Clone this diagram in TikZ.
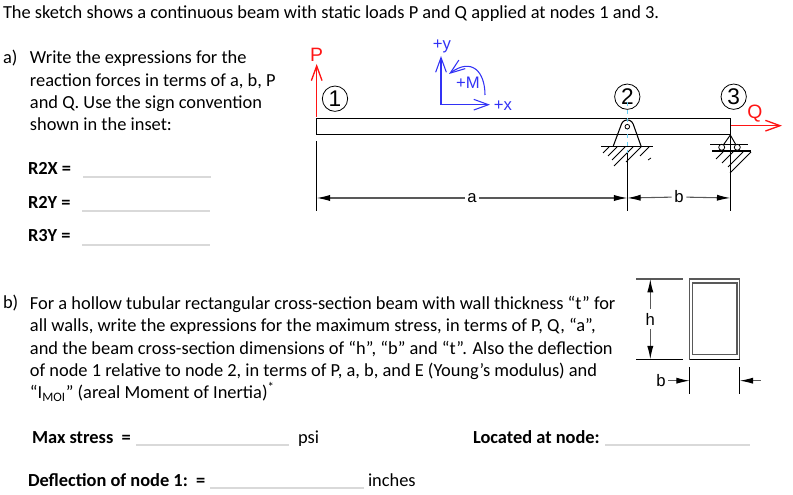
\documentclass[tikz,border=0pt]{standalone}
\usepackage{fontspec}
\setmainfont{Carlito}
\newfontfamily\labelfont{Liberation Sans}
\usetikzlibrary{arrows.meta, positioning}
\definecolor{loadred}{RGB}{255,20,20}
\definecolor{insetblue}{RGB}{50,50,245}

\begin{document}
\begin{tikzpicture}[
            x=0.75pt, y=-0.75pt,
            every node/.style={inner sep=0pt, outer sep=0pt},
            txt/.style={anchor=base west, font=\fontsize{13.8}{16.8}\selectfont},
            para/.style={anchor=north west, align=left, font=\fontsize{13.8}{16.8}\selectfont},
            boldtxt/.style={txt, font=\fontsize{13.8}{16.8}\selectfont\bfseries},
            blank/.style={draw=gray!30, line width=0.8pt},
            fig/.style={font=\labelfont\fontsize{12.5}{14}\selectfont},
            numcircle/.style={draw, circle, minimum size=19pt, line width=0.6pt, font=\labelfont\fontsize{17}{19}\selectfont},
            load/.style={draw=loadred, line width=1pt, -{Straight Barb[length=11pt,width=8pt]}},
            inset/.style={draw=insetblue, line width=0.8pt, -{Straight Barb[length=11pt,width=8pt]}},
            dimline/.style={draw=gray!70!black, line width=0.8pt, -{Latex[length=10pt,width=4.6pt,black]}},
            ext/.style={draw=black, line width=0.7pt},
        ]
        \useasboundingbox (0,0) rectangle (793,495);

        % question text
        \node[txt] (intro) at (3,18.5) {The sketch shows a continuous beam with static loads P and Q applied at nodes 1 and 3.};
        \node[txt] (parta) at (3,64) {a)};
        \node[para] (textta) at (30,51) {Write the expressions for the\\reaction forces in terms of a, b, P\\and Q. Use the sign convention\\shown in the inset:};
        \node[boldtxt] (r2x) at (28,175) {R2X =};
        \node[boldtxt] (r2y) at (28,209) {R2Y =};
        \node[boldtxt] (r3y) at (28,242) {R3Y =};
        \draw[blank] (83,177) -- (211,177);
        \draw[blank] (82,211) -- (210,211);
        \draw[blank] (82,245) -- (210,245);
        \node[txt] (partb) at (3,309) {b)};
        \node[para] (texttb) at (30,296) {For a hollow tubular rectangular cross-section beam with wall thickness “t” for\\all walls, write the expressions for the maximum stress, in terms of P, Q, “a”,\\and the beam cross-section dimensions of “h”, “b” and “t”. Also the deflection\\of node 1 relative to node 2, in terms of P, a, b, and E (Young’s modulus) and\\“I\textsubscript{MOI}” (areal Moment of Inertia)\textsuperscript{*}};
        \node[boldtxt] (maxs) at (32,443) {Max stress\ \ =};
        \node[txt] (psi) at (298,443) {psi};
        \node[boldtxt] (located) at (473,443) {Located at node:};
        \node[boldtxt] (defl) at (28,486) {Deflection of node 1:\ \ =};
        \node[txt] (inches) at (368,486) {inches};
        \draw[blank] (136,445) -- (289,445);
        \draw[blank] (605,445) -- (750,445);
        \draw[blank] (210,488) -- (364,488);

        % beam
        \node[draw, line width=0.8pt, minimum width=310.5pt, minimum height=12pt, anchor=north west] (beam) at (316.7,118.3) {};
        \node[numcircle] (n1) at (335,98.7) {1};
        \node[numcircle] (n2) at (627.3,96.7) {2};
        \node[numcircle] (n3) at (733.7,96.7) {3};

        % loads
        \coordinate (pbase) at (316.7,117);
        \coordinate (qbase) at (731,125.7);
        \node[text=loadred, font=\labelfont\fontsize{14.5}{16}\selectfont] (p) at (316.5,55) {P};
        \node[text=loadred, font=\labelfont\fontsize{14.5}{16}\selectfont] (q) at (755,114) {Q};
        \coordinate (ptip) at (316.7,64);
        \coordinate (qtip) at (782,125.7);
        \draw[load] (pbase) -- (ptip);

        % sign inset
        \coordinate (origin) at (441,104.7);
        \coordinate (ytip) at (441,56);
        \coordinate (xtip) at (490,104.7);
        \node[fig, text=insetblue] (ylab) at (442,46) {+y};
        \node[fig, text=insetblue] (xlab) at (503,106) {+x};
        \node[fig, text=insetblue] (mlab) at (468,83) {+M};
        \draw[inset] (origin) -- (ytip);
        \draw[inset] (origin) -- (xtip);
        \coordinate (mstart) at (485,95);
        \coordinate (mtip) at (449,74);
        \draw[inset] (mstart) .. controls (485,72) and (472,57) .. (mtip);

        % support 2
        \coordinate (pin2) at (627.3,126.7);
        \draw[line width=0.8pt] (613.3,146) -- (621.5,124) arc[start angle=200, end angle=340, radius=6.2] -- (641,146);
        \draw[line width=0.8pt] (601,146.3) -- (653.3,146.3);
        \foreach \hx/\hl in {609/6,617/9,625/13,633/19,641/15,649/9}
            \draw[line width=0.6pt] (\hx,147) -- ++(-\hl,\hl);
        \draw[line width=0.6pt] (651,158) -- (648,160);
        \draw[cyan!60, dashed, line width=0.7pt] (627.3,102) -- (627.3,165);
        \draw[line width=0.6pt, fill=white] (pin2) circle[radius=2.3];

        % support 3
        \coordinate (roll1) at (721.7,147.3);
        \coordinate (roll2) at (737.3,147.3);
        \draw[line width=0.7pt] (710,144.7) -- (747.7,144.7);
        \draw[line width=0.8pt] (712,151) -- (750.7,151);
        \draw[line width=0.7pt] (roll1) -- (730.3,135) -- (roll2);
        \draw[line width=0.6pt, fill=white] (roll1) circle[radius=3];
        \draw[line width=0.6pt, fill=white] (roll2) circle[radius=3];
        \foreach \hx/\hl in {723/7,733/11,743/15,751/21}
            \draw[line width=0.6pt] (\hx,152) -- ++(-\hl,\hl);

        % beam dimensions
        \draw[ext] (316.7,141) -- (316.7,211);
        \draw[ext] (627.3,153) -- (627.3,211);
        \draw[ext] (730.3,135) -- (730.3,211);
        \draw[load] (qbase) -- (qtip);
        \coordinate (a1) at (316.7,198);
        \coordinate (a2) at (627.3,198);
        \coordinate (b1) at (627.3,198);
        \coordinate (b2) at (730.3,198);
        \node[fig, fill=white, inner xsep=2pt] (adim) at (472,198) {a};
        \node[fig, fill=white, inner xsep=2pt] (bdim) at (679,197) {b};
        \draw[dimline] (adim) -- (a1);
        \draw[dimline] (adim) -- (a2);
        \draw[dimline] (bdim) -- (b1);
        \draw[dimline] (bdim) -- (b2);

        % cross-section
        \draw[draw=gray!70!black, line width=0.9pt] (689.7,279) rectangle (739.7,359.3);
        \draw[draw=gray!70!black, line width=0.9pt] (692.7,283) rectangle (737,354.7);
        \draw[draw=gray!70!black, line width=0.9pt] (636,279) -- (682.7,279);
        \draw[ext, line width=0.9pt] (636,359.3) -- (682.7,359.3);
        \draw[ext] (689.7,359.3) -- (739.7,359.3);
        \draw[ext] (689.7,367) -- (689.7,394.3);
        \draw[ext] (739.7,367) -- (739.7,394.3);
        \coordinate (h1) at (650.3,279);
        \coordinate (h2) at (650.3,359.3);
        \node[fig, fill=white, inner ysep=3pt] (hdim) at (650.3,319) {h};
        \draw[dimline] (hdim) -- (h1);
        \draw[dimline] (hdim) -- (h2);
        \node[fig] (bsec) at (661,381) {b};
        \coordinate (bs1) at (668.3,380.7);
        \coordinate (bs2) at (689.7,380.7);
        \coordinate (bs3) at (760.7,380.7);
        \coordinate (bs4) at (739.7,380.7);
        \draw[dimline] (bs1) -- (bs2);
        \draw[dimline] (bs3) -- (bs4);
\end{tikzpicture}
\end{document}
